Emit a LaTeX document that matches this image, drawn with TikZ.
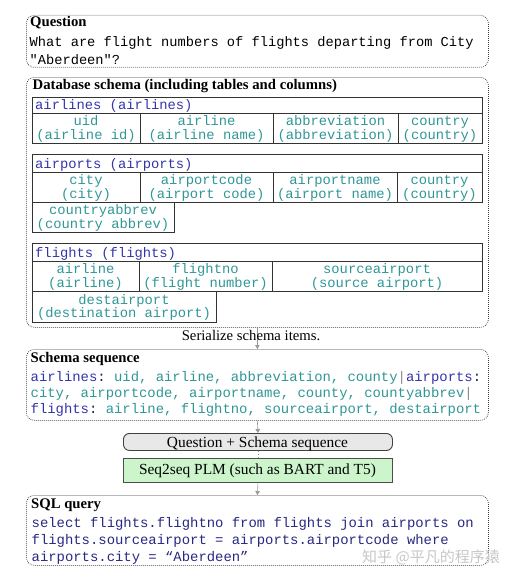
\documentclass[tikz,border=0pt]{standalone}
\usepackage{fontspec}
\setmainfont{Liberation Serif}
\newfontfamily\monof{Liberation Mono}
\newfontfamily\cjkf{Noto Sans CJK SC}
\usetikzlibrary{arrows.meta}
\frenchspacing
\definecolor{tblue}{RGB}{52,52,170}
\definecolor{tteal}{RGB}{48,150,150}
\definecolor{sqlblue}{RGB}{40,40,130}
\definecolor{colondark}{RGB}{30,30,80}
\definecolor{dotgray}{RGB}{60,60,60}
\definecolor{arrgray}{RGB}{150,150,150}
\definecolor{pgreen}{RGB}{204,245,204}
\definecolor{pgray}{RGB}{232,232,232}
\tikzset{
  panel/.style={draw=dotgray, line width=0.75pt, dash pattern=on 0.8pt off 1.2pt, rounded corners=8pt, inner sep=0pt, anchor=north west},
  ptitle/.style={anchor=base west, inner sep=0pt, font=\fontsize{14.7}{15}\selectfont\bfseries},
  mline/.style={anchor=base west, inner sep=0pt, font=\monof\fontsize{13.9}{14}\selectfont},
  tbox/.style={draw=black!80, line width=0.9pt},
  cellt/.style={inner sep=0pt, anchor=base, font=\monof\fontsize{13.8}{14}\selectfont, text=tteal},
  hdrt/.style={inner sep=0pt, anchor=base west, font=\monof\fontsize{13.8}{14}\selectfont, text=tblue},
  arr/.style={draw=arrgray, line width=0.6pt, -{Triangle[width=4.5pt,length=4pt]}},
  procbox/.style={inner sep=0pt, anchor=north west, line width=0.9pt},
  proct/.style={inner sep=0pt, anchor=base, font=\fontsize{15.4}{16}\selectfont},
}
\newcommand\celltxt[5]{%
  \node[cellt] (#1a) at (#2,#3) {#4};
  \node[cellt] (#1b) at (#2,#3+13.5) {#5};}
\begin{document}
\begin{tikzpicture}[x=1pt,y=-1pt]
\useasboundingbox (0,0) rectangle (515,578);

% ---------- Question panel ----------
\node[panel, minimum width=462pt, minimum height=52pt] (qpanel) at (26,15) {};
\node[ptitle] (qtitle) at (30,27) {Question};
\node[mline, font=\monof\fontsize{13.7}{14}\selectfont] (q1) at (29.5,46.5) {What are flight numbers of flights departing from City};
\node[mline, font=\monof\fontsize{13.7}{14}\selectfont] (q2) at (29.5,64) {"Aberdeen"?};

% ---------- Database schema panel ----------
\node[panel, minimum width=462pt, minimum height=250pt] (dbpanel) at (26,77) {};
\node[ptitle] (dbtitle) at (32.5,89) {Database schema (including tables and columns)};

% airlines
\draw[tbox] (32,97) rectangle (482,113);
\node[hdrt] (h1) at (35,109) {airlines (airlines)};
\draw[tbox] (32,113) rectangle (140,143);
\draw[tbox] (140,113) rectangle (273,143);
\draw[tbox] (273,113) rectangle (398,143);
\draw[tbox] (398,113) rectangle (482,143);
\celltxt{a1}{86}{125.5}{uid}{(airline id)}
\celltxt{a2}{206.5}{125.5}{airline}{(airline name)}
\celltxt{a3}{335.5}{125.5}{abbreviation}{(abbreviation)}
\celltxt{a4}{440}{125.5}{country}{(country)}

% airports
\draw[tbox] (32,154) rectangle (482,172);
\node[hdrt] (h2) at (35,168) {airports (airports)};
\draw[tbox] (32,172) rectangle (140,202);
\draw[tbox] (140,172) rectangle (273,202);
\draw[tbox] (273,172) rectangle (397,202);
\draw[tbox] (397,172) rectangle (482,202);
\draw[tbox] (32,202) rectangle (174,232);
\celltxt{b1}{86}{184.5}{city}{(city)}
\celltxt{b2}{206.5}{184.5}{airportcode}{(airport code)}
\celltxt{b3}{335}{184.5}{airportname}{(airport name)}
\celltxt{b4}{439.5}{184.5}{country}{(country)}
\celltxt{b5}{103}{214.5}{countryabbrev}{(country abbrev)}

% flights
\draw[tbox] (32,243) rectangle (482,261);
\node[hdrt] (h3) at (35,257) {flights (flights)};
\draw[tbox] (32,261) rectangle (139,291);
\draw[tbox] (139,261) rectangle (272,291);
\draw[tbox] (272,261) rectangle (482,291);
\draw[tbox] (32,291) rectangle (216,322);
\celltxt{c1}{85.5}{273.5}{airline}{(airline)}
\celltxt{c2}{205.5}{273.5}{flightno}{(flight number)}
\celltxt{c3}{377}{273.5}{sourceairport}{(source airport)}
\celltxt{c4}{124}{304}{destairport}{(destination airport)}

% ---------- Schema sequence panel ----------
\node[panel, minimum width=462pt, minimum height=71pt] (sspanel) at (26,349) {};
\draw[arr] (dbpanel.south) -- (sspanel.north);
\node[anchor=base, inner sep=0pt, font=\fontsize{14.7}{15}\selectfont] (serial) at (251,340) {Serialize schema items.};
\node[ptitle] (sstitle) at (30.5,362) {Schema sequence};
\node[mline] (s1) at (30.5,381) {\textcolor{tblue}{airlines}\textcolor{colondark}{:} \textcolor{tteal}{uid, airline, abbreviation, county}\textcolor{black!45}{|}\textcolor{tblue}{airports}\textcolor{colondark}{:}};
\node[mline] (s2) at (30.5,397) {\textcolor{tteal}{city, airportcode, airportname, county, countyabbrev}\textcolor{black!45}{|}};
\node[mline] (s3) at (30.5,413) {\textcolor{tblue}{flights}\textcolor{colondark}{:} \textcolor{tteal}{airline, flightno, sourceairport, destairport}};

% ---------- processing boxes ----------
\node[procbox, draw=black!75, fill=pgray, rounded corners=6pt, minimum width=269pt, minimum height=17pt] (qsbox) at (123,433) {};
\node[proct] (qslabel) at (257.5,447) {Question + Schema sequence};
\node[procbox, draw=black!70, fill=pgreen, minimum width=269pt, minimum height=24pt] (plmbox) at (123,458) {};
\node[proct] (plmlabel) at (257.5,474) {Seq2seq PLM (such as BART and T5)};
\draw[arr] (sspanel.south) -- (qsbox.north);
\draw[draw=arrgray, line width=0.6pt, dash pattern=on 1.5pt off 1.5pt] (qsbox.south) -- (plmbox.north);

% ---------- SQL query panel ----------
\node[panel, minimum width=462pt, minimum height=70pt] (sqlpanel) at (26,495) {};
\draw[arr] (plmbox.south) -- (sqlpanel.north);
\node[ptitle] (sqltitle) at (31,508) {SQL query};
\node[mline, text=sqlblue] (l1) at (31.5,527) {select flights.flightno from flights join airports on};
\node[mline, text=sqlblue] (l2) at (31.5,544) {flights.sourceairport = airports.airportcode where};
\node[mline, text=sqlblue] (l3) at (31.5,561) {airports.city = “Aberdeen”};

% watermark
\node[anchor=base west, inner sep=0pt, text=black!22, font=\cjkf\fontsize{15}{15}\selectfont] (wm) at (362,562) {知乎 @平凡的程序猿};
\end{tikzpicture}
\end{document}
